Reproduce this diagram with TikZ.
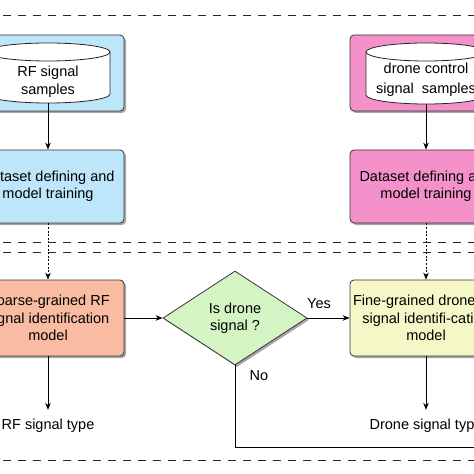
\documentclass[tikz,border=0pt]{standalone}
\usepackage{fontspec}
\setmainfont{Liberation Sans}
\usetikzlibrary{shapes.geometric,arrows.meta,shadows}
\definecolor{boxblue}{RGB}{190,230,250}
\definecolor{boxpink}{RGB}{244,145,202}
\definecolor{boxsalmon}{RGB}{249,187,162}
\definecolor{boxyellow}{RGB}{245,248,198}
\definecolor{boxgreen}{RGB}{212,245,195}
\definecolor{edge}{RGB}{55,55,55}
\begin{document}
\begin{tikzpicture}[x=1bp,y=-1bp,
  every node/.style={font=\fontsize{14.5bp}{17.5bp}\selectfont},
  card/.style={draw=edge, line width=0.8bp, rounded corners=4bp, minimum width=152bp,
    align=center, inner sep=0pt,
    drop shadow={shadow xshift=2bp,shadow yshift=-2bp,fill=black!50,opacity=0.7}},
  cylline/.style={draw=black!85, line width=0.8bp, fill=white},
  cyltext/.style={align=center, inner sep=0pt, minimum width=120bp},
  arr/.style={-{Stealth[length=7bp,width=5.5bp]}, line width=0.9bp},
  dotarr/.style={arr, dash pattern=on 2bp off 1.6bp},
  sepline/.style={line width=0.9bp, black!85, dash pattern=on 8bp off 7bp},
  lab/.style={inner sep=0pt}
]
\useasboundingbox (0,0) rectangle (474,474);
\fill[white] (0,0) rectangle (474,474);
\clip (0,0) rectangle (474,474);

% separators
\draw[sepline] (3,15) -- (480,15);
\draw[sepline] (3,242) -- (480,242);
\draw[sepline] (3,252) -- (480,252);
\draw[sepline] (3,460) -- (480,460);

% left column
\node[card, fill=boxblue, minimum height=76bp] (rfbox) at (48,73) {};
\draw[cylline] (-14,52) -- (-14,94) arc[start angle=180,end angle=0,x radius=62,y radius=9] -- (110,52);
\draw[cylline] (48,52) ellipse[x radius=62, y radius=9];
\node[cyltext, minimum height=42bp] (rfcyl) at (48,82) {RF signal\\samples};
\node[card, fill=boxblue, minimum height=73bp] (rfdata) at (48,186.5) {Dataset defining and\\model training};
\node[card, fill=boxsalmon, minimum height=76bp] (coarse) at (48,318) {Coarse-grained RF\\signal identification\\model};

% right column
\node[card, fill=boxpink, minimum height=76bp] (pinkbox) at (426,73) {};
\draw[cylline] (366,52) -- (366,95) arc[start angle=180,end angle=0,x radius=60,y radius=9] -- (486,52);
\draw[cylline] (426,52) ellipse[x radius=60, y radius=9];
\node[cyltext, minimum height=48bp, font=\fontsize{14.5bp}{20bp}\selectfont] (pinkcyl) at (426,80) {drone control\\signal\ \ samples};
\node[card, fill=boxpink, minimum height=73bp] (pinkdata) at (426,186.5) {Dataset defining and\\model training};
\node[card, fill=boxyellow, minimum height=76bp] (fine) at (426,318) {Fine-grained drone RF\\signal identifi-cation\\model};

% decision
\node[diamond, aspect=1.53, draw=edge, line width=0.8bp, fill=boxgreen, minimum width=144bp,
  minimum height=94bp, inner sep=0pt, align=center,
  drop shadow={shadow xshift=2bp,shadow yshift=-2bp,fill=black!50,opacity=0.7}] (dia) at (235,318) {Is drone\\signal ?};

% outputs
\node[anchor=base, inner xsep=0pt, inner ysep=8.5bp] (rftype) at (48,429) {RF signal type};
\node[anchor=base, inner xsep=0pt, inner ysep=8.5bp] (dronetype) at (426,429) {Drone signal type};
\node[lab] (yes) at (319,304) {Yes};
\node[lab] (no) at (259,376) {No};
\coordinate (noend) at (480,447);

% connectors
\draw[arr] (rfcyl.south) -- (rfdata.north);
\draw[dotarr] (rfdata.south) -- (coarse.north);
\draw[arr] (coarse.east) -- (dia.west);
\draw[arr] (coarse.south) -- (rftype.north);
\draw[arr] (dia.east) -- (fine.west);
\draw[line width=0.9bp] (dia.south) |- (noend);
\draw[arr] (pinkcyl.south) -- (pinkdata.north);
\draw[dotarr] (pinkdata.south) -- (fine.north);
\draw[arr] (fine.south) -- (dronetype.north);
\end{tikzpicture}
\end{document}
